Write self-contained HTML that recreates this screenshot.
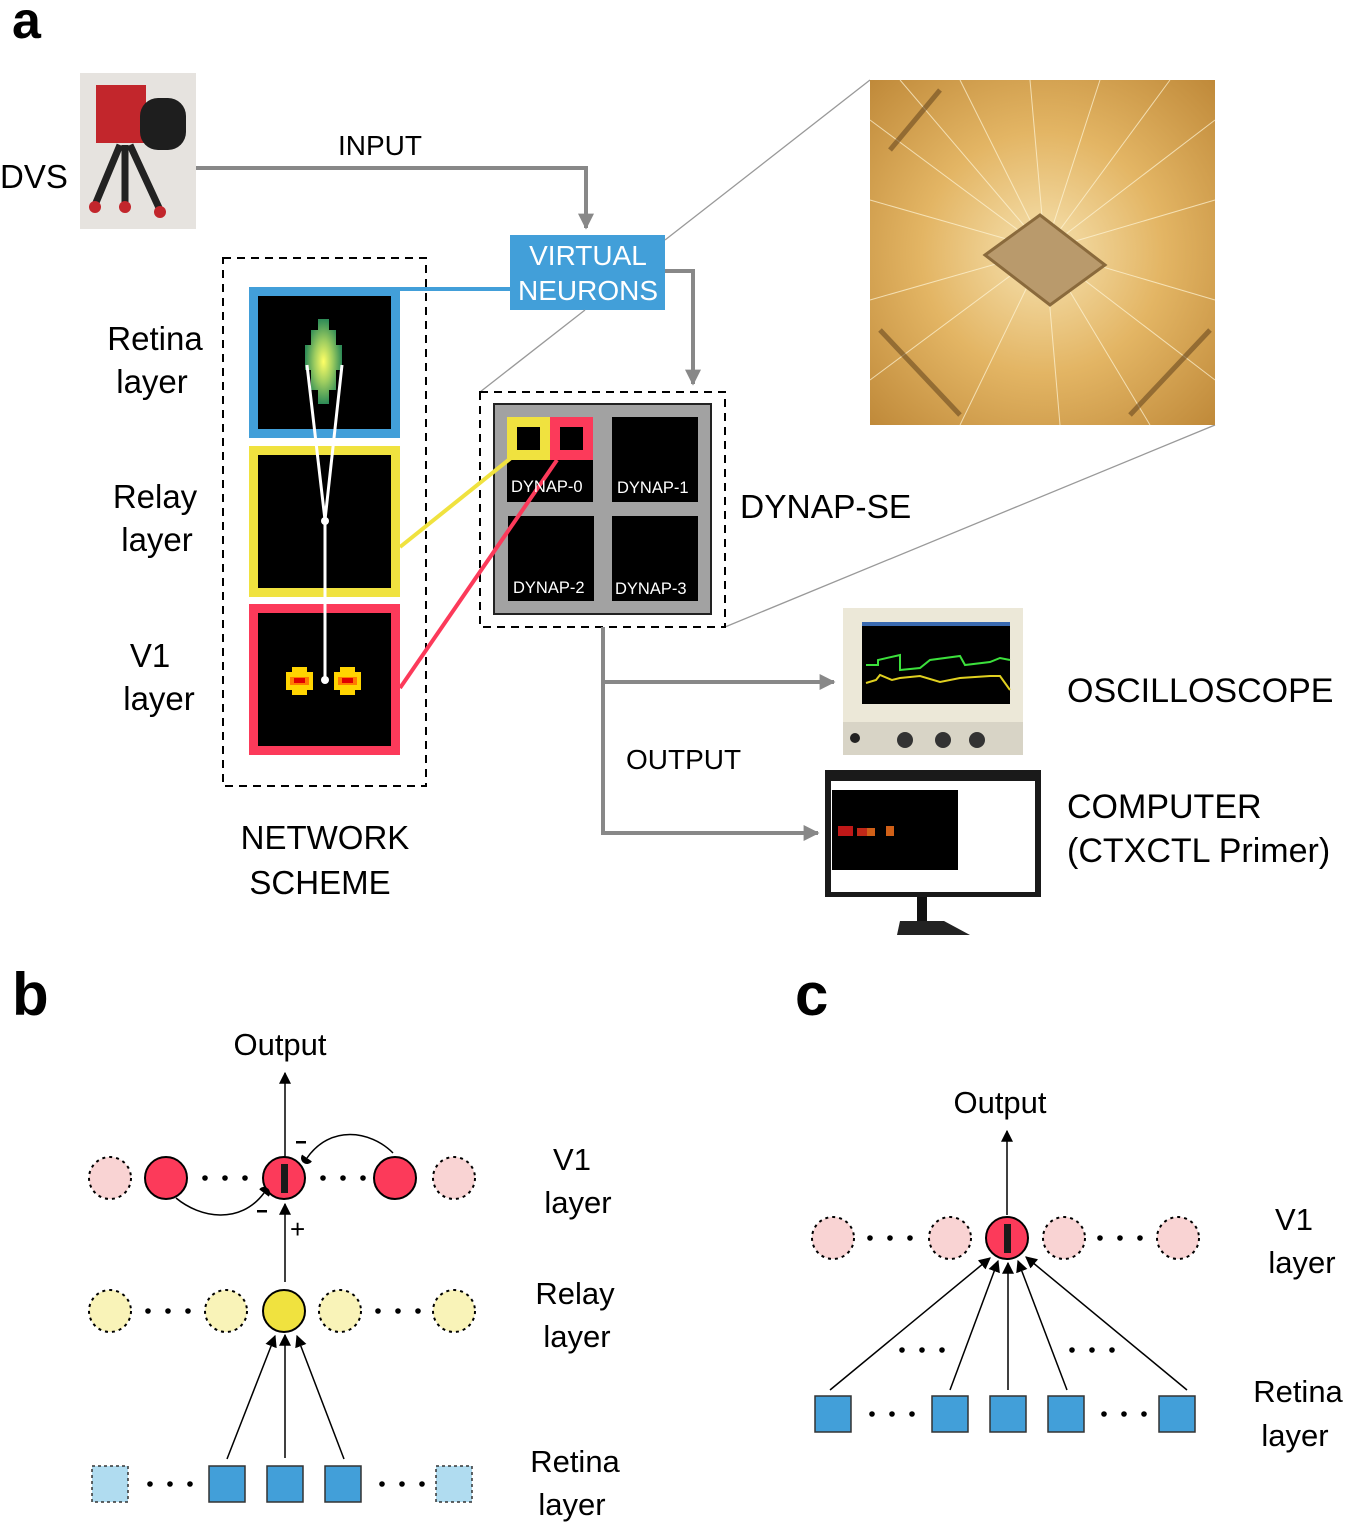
<!DOCTYPE html>
<html><head><meta charset="utf-8"><style>
html,body{margin:0;padding:0;background:#fff}
svg{display:block}
text{font-family:"Liberation Sans",Arial,sans-serif;fill:#000}
</style></head><body>
<svg width="1347" height="1523" viewBox="0 0 1347 1523" xmlns="http://www.w3.org/2000/svg">
<defs>
<marker id="ag" viewBox="0 0 10 10" refX="9" refY="5" markerWidth="4" markerHeight="4" orient="auto"><path d="M0,0L10,5L0,10z" fill="#888"/></marker>
<marker id="ab" viewBox="0 0 10 10" refX="9" refY="5" markerWidth="12" markerHeight="12" orient="auto" markerUnits="userSpaceOnUse"><path d="M0,0L10,5L0,10z" fill="#000"/></marker>
<marker id="ai" viewBox="0 0 10 10" refX="5" refY="5" markerWidth="12" markerHeight="12" orient="auto" markerUnits="userSpaceOnUse"><path d="M5,0A5,5 0 0 1 5,10z" fill="#000"/></marker>
<radialGradient id="chip" cx="50%" cy="50%" r="70%"><stop offset="0" stop-color="#f6e2b0"/><stop offset="0.5" stop-color="#e3b564"/><stop offset="1" stop-color="#c08a3a"/></radialGradient>
<radialGradient id="blob" cx="50%" cy="50%" r="50%"><stop offset="0" stop-color="#ffff66"/><stop offset="0.5" stop-color="#9ccc60"/><stop offset="1" stop-color="#2e8b57"/></radialGradient>
</defs>

<!-- a -->
<text x="12" y="38" font-size="52" font-weight="bold">a</text>
<text x="0" y="188" font-size="33">DVS</text>
<rect x="80" y="73" width="116" height="156" fill="#e6e3df"/>
<rect x="96" y="85" width="50" height="58" fill="#c2262c"/>
<rect x="140" y="98" width="46" height="52" rx="18" fill="#1e1e1e"/>
<path d="M120,145 L95,205 M125,145 L125,205 M130,145 L160,210" stroke="#222" stroke-width="7"/>
<circle cx="95" cy="207" r="6" fill="#c2262c"/><circle cx="125" cy="207" r="6" fill="#c2262c"/><circle cx="160" cy="212" r="6" fill="#c2262c"/>

<text x="338" y="155" font-size="28">INPUT</text>
<polyline points="196,168 586,168 586,228" fill="none" stroke="#888" stroke-width="4" marker-end="url(#ag)"/>
<rect x="510" y="235" width="155" height="75" fill="#429fd9"/>
<text x="588" y="265" font-size="28" text-anchor="middle" style="fill:#fff">VIRTUAL</text>
<text x="588" y="300" font-size="28" text-anchor="middle" style="fill:#fff">NEURONS</text>
<polyline points="665,271 693,271 693,384" fill="none" stroke="#888" stroke-width="4" marker-end="url(#ag)"/>
<line x1="400" y1="289" x2="510" y2="289" stroke="#429fd9" stroke-width="4"/>

<line x1="480" y1="392" x2="585" y2="310" stroke="#999" stroke-width="1.3"/>
<line x1="665" y1="240" x2="870" y2="80" stroke="#999" stroke-width="1.3"/>
<line x1="725" y1="627" x2="1215" y2="425" stroke="#999" stroke-width="1.3"/>

<rect x="223" y="258" width="203" height="528" fill="none" stroke="#000" stroke-width="2" stroke-dasharray="8,6"/>
<rect x="253.5" y="291.5" width="142" height="142" fill="#000" stroke="#429fd9" stroke-width="9"/>
<rect x="253.5" y="450.5" width="142" height="142" fill="#000" stroke="#f0e23f" stroke-width="9"/>
<rect x="253.5" y="608.5" width="142" height="142" fill="#000" stroke="#fc3a5a" stroke-width="9"/>
<polygon points="323,319 329,319 329,330 336,330 336,345 342,345 342,370 336,370 336,390 329,390 329,404 318,404 318,390 311,390 311,370 305,370 305,345 311,345 311,330 318,330 318,319" fill="url(#blob)"/>
<polyline points="307,365 325,520 342,365" fill="none" stroke="#fff" stroke-width="3"/>
<line x1="325" y1="520" x2="325" y2="680" stroke="#fff" stroke-width="3"/>
<circle cx="325" cy="521" r="4" fill="#fff"/><circle cx="325" cy="680" r="4" fill="#fff"/>
<g>
<rect x="286" y="672" width="27" height="18" fill="#ffd400"/><rect x="292" y="667" width="15" height="28" fill="#ffd400"/><rect x="290" y="677" width="19" height="8" fill="#ff7a00"/><rect x="294" y="678" width="11" height="5" fill="#e00000"/>
<rect x="334" y="672" width="27" height="18" fill="#ffd400"/><rect x="340" y="667" width="15" height="28" fill="#ffd400"/><rect x="338" y="677" width="19" height="8" fill="#ff7a00"/><rect x="342" y="678" width="11" height="5" fill="#e00000"/>
</g>
<text x="155" y="350" font-size="33" text-anchor="middle">Retina</text>
<text x="152" y="393" font-size="33" text-anchor="middle">layer</text>
<text x="155" y="508" font-size="33" text-anchor="middle">Relay</text>
<text x="157" y="551" font-size="33" text-anchor="middle">layer</text>
<text x="150" y="667" font-size="33" text-anchor="middle">V1</text>
<text x="159" y="710" font-size="33" text-anchor="middle">layer</text>
<text x="325" y="849" font-size="33" text-anchor="middle">NETWORK</text>
<text x="320" y="894" font-size="33" text-anchor="middle">SCHEME</text>

<rect x="480" y="392" width="245" height="235" fill="none" stroke="#000" stroke-width="2" stroke-dasharray="8,6"/>
<rect x="494" y="404" width="217" height="210" fill="#a2a2a2" stroke="#222" stroke-width="2"/>
<rect x="507" y="417" width="86" height="85" fill="#000"/>
<rect x="612" y="417" width="86" height="85" fill="#000"/>
<rect x="508" y="516" width="86" height="85" fill="#000"/>
<rect x="612" y="516" width="86" height="85" fill="#000"/>
<rect x="512" y="422" width="33" height="33" fill="#000" stroke="#f0e23f" stroke-width="10"/>
<rect x="555" y="422" width="33" height="33" fill="#000" stroke="#fc3a5a" stroke-width="10"/>
<line x1="400" y1="547" x2="511" y2="458" stroke="#f0e23f" stroke-width="4"/>
<line x1="400" y1="688" x2="557" y2="460" stroke="#fc3a5a" stroke-width="4"/>
<text x="511" y="492" font-size="16.5" style="fill:#fff">DYNAP-0</text>
<text x="617" y="493" font-size="16.5" style="fill:#fff">DYNAP-1</text>
<text x="513" y="593" font-size="16.5" style="fill:#fff">DYNAP-2</text>
<text x="615" y="594" font-size="16.5" style="fill:#fff">DYNAP-3</text>
<text x="740" y="518" font-size="33.5">DYNAP-SE</text>

<rect x="870" y="80" width="345" height="345" fill="url(#chip)"/>
<g stroke="#fff6d8" stroke-width="1" opacity="0.7">
<path d="M1045,250 L870,120 M1045,250 L900,80 M1045,250 L960,80 M1045,250 L1030,80 M1045,250 L1100,80 M1045,250 L1170,80 M1045,250 L1215,120 M1045,250 L1215,200 M1045,250 L1215,300 M1045,250 L1215,380 M1045,250 L1150,425 M1045,250 L1060,425 M1045,250 L960,425 M1045,250 L870,380 M1045,250 L870,300 M1045,250 L870,200"/>
</g>
<polygon points="985,255 1040,215 1105,265 1050,305" fill="#b99a6c" stroke="#8a6a3c" stroke-width="3"/>
<g stroke="#6b4a20" stroke-width="5" opacity="0.6"><path d="M880,330 L960,415 M1130,415 L1210,330 M890,150 L940,90"/></g>

<polyline points="603,627 603,833 818,833" fill="none" stroke="#888" stroke-width="4" marker-end="url(#ag)"/>
<line x1="603" y1="682" x2="834" y2="682" stroke="#888" stroke-width="4" marker-end="url(#ag)"/>
<text x="626" y="769" font-size="28">OUTPUT</text>

<rect x="843" y="608" width="180" height="147" fill="#ece8d8"/>
<rect x="862" y="622" width="148" height="82" fill="#000"/>
<rect x="862" y="622" width="148" height="4" fill="#3a6ab0"/>
<path d="M866,665 L878,665 L878,660 L900,655 L900,670 L920,668 L930,660 L960,656 L965,665 L990,662 L1000,658 L1010,660" fill="none" stroke="#3ce03c" stroke-width="2"/>
<path d="M866,683 L876,680 L880,675 L892,680 L900,678 L920,676 L940,682 L960,678 L990,676 L1000,676 L1010,690" fill="none" stroke="#e0d020" stroke-width="2"/>
<rect x="843" y="722" width="180" height="33" fill="#d8d4c6"/>
<circle cx="855" cy="738" r="5" fill="#222"/><circle cx="905" cy="740" r="8" fill="#333"/><circle cx="943" cy="740" r="8" fill="#333"/><circle cx="977" cy="740" r="8" fill="#333"/>
<text x="1067" y="702" font-size="34">OSCILLOSCOPE</text>

<rect x="825" y="770" width="216" height="127" fill="#1a1a1a"/>
<rect x="831" y="781" width="204" height="111" fill="#fff"/>
<rect x="832" y="790" width="126" height="80" fill="#000"/>
<rect x="838" y="826" width="15" height="10" fill="#c01818"/><rect x="857" y="828" width="10" height="8" fill="#c02818"/><rect x="867" y="828" width="8" height="8" fill="#d06018"/><rect x="886" y="826" width="8" height="10" fill="#d06018"/>
<rect x="917" y="897" width="10" height="24" fill="#111"/>
<polygon points="900,921 944,921 970,935 897,935" fill="#222"/>
<text x="1067" y="818" font-size="34">COMPUTER</text>
<text x="1067" y="862" font-size="34">(CTXCTL Primer)</text>

<!-- b -->
<text x="12" y="1015" font-size="60" font-weight="bold">b</text>
<text x="280" y="1055" font-size="31" text-anchor="middle">Output</text>
<line x1="285" y1="1158" x2="285" y2="1073" stroke="#000" stroke-width="1.5" marker-end="url(#ab)"/>
<g stroke="#000" stroke-width="2">
<circle cx="110" cy="1178" r="21" fill="#f9d3d3" stroke-dasharray="3,4"/>
<circle cx="166" cy="1178" r="21" fill="#fc3a5a"/>
<circle cx="284" cy="1178" r="21" fill="#fc3a5a"/>
<circle cx="395" cy="1178" r="21" fill="#fc3a5a"/>
<circle cx="454" cy="1178" r="21" fill="#f9d3d3" stroke-dasharray="3,4"/>
<circle cx="110" cy="1311" r="21" fill="#f9f3b8" stroke-dasharray="3,4"/>
<circle cx="226" cy="1311" r="21" fill="#f9f3b8" stroke-dasharray="3,4"/>
<circle cx="284" cy="1311" r="21" fill="#f0e23f"/>
<circle cx="340" cy="1311" r="21" fill="#f9f3b8" stroke-dasharray="3,4"/>
<circle cx="454" cy="1311" r="21" fill="#f9f3b8" stroke-dasharray="3,4"/>
</g>
<rect x="281" y="1164" width="7" height="29" fill="#1a1a1a"/>
<g fill="#000">
<circle cx="205" cy="1178" r="2.8"/><circle cx="225" cy="1178" r="2.8"/><circle cx="245" cy="1178" r="2.8"/>
<circle cx="323" cy="1178" r="2.8"/><circle cx="343" cy="1178" r="2.8"/><circle cx="363" cy="1178" r="2.8"/>
<circle cx="148" cy="1311" r="2.8"/><circle cx="168" cy="1311" r="2.8"/><circle cx="188" cy="1311" r="2.8"/>
<circle cx="378" cy="1311" r="2.8"/><circle cx="398" cy="1311" r="2.8"/><circle cx="418" cy="1311" r="2.8"/>
<circle cx="150" cy="1484" r="2.8"/><circle cx="170" cy="1484" r="2.8"/><circle cx="190" cy="1484" r="2.8"/>
<circle cx="382" cy="1484" r="2.8"/><circle cx="402" cy="1484" r="2.8"/><circle cx="422" cy="1484" r="2.8"/>
</g>
<g stroke="#333" stroke-width="1.5">
<rect x="92" y="1466" width="36" height="36" fill="#b0dcf0" stroke-dasharray="3,3"/>
<rect x="209" y="1466" width="36" height="36" fill="#429fd9"/>
<rect x="267" y="1466" width="36" height="36" fill="#429fd9"/>
<rect x="325" y="1466" width="36" height="36" fill="#429fd9"/>
<rect x="436" y="1466" width="36" height="36" fill="#b0dcf0" stroke-dasharray="3,3"/>
</g>
<g stroke="#000" stroke-width="1.5" fill="none">
<line x1="227" y1="1459" x2="275" y2="1336" marker-end="url(#ab)"/>
<line x1="285" y1="1458" x2="285" y2="1335" marker-end="url(#ab)"/>
<line x1="344" y1="1459" x2="297" y2="1336" marker-end="url(#ab)"/>
<line x1="285" y1="1282" x2="285" y2="1204" marker-end="url(#ab)"/>
<path d="M176,1198 C200,1218 240,1225 264,1193" marker-end="url(#ai)"/>
<path d="M393,1153 C370,1130 330,1125 307,1158" marker-end="url(#ai)"/>
</g>
<text x="290" y="1238" font-size="26">+</text>
<rect x="257" y="1210" width="10" height="2.5" fill="#000"/>
<rect x="296" y="1141" width="10" height="2.5" fill="#000"/>
<text x="572" y="1170" font-size="31" text-anchor="middle">V1</text>
<text x="578" y="1213" font-size="31" text-anchor="middle">layer</text>
<text x="575" y="1304" font-size="31" text-anchor="middle">Relay</text>
<text x="577" y="1347" font-size="31" text-anchor="middle">layer</text>
<text x="575" y="1472" font-size="31" text-anchor="middle">Retina</text>
<text x="572" y="1515" font-size="31" text-anchor="middle">layer</text>

<!-- c -->
<text x="795" y="1015" font-size="60" font-weight="bold">c</text>
<text x="1000" y="1113" font-size="31" text-anchor="middle">Output</text>
<line x1="1007" y1="1215" x2="1007" y2="1131" stroke="#000" stroke-width="1.5" marker-end="url(#ab)"/>
<g stroke="#000" stroke-width="2">
<circle cx="833" cy="1238" r="21" fill="#f9d3d3" stroke-dasharray="3,4"/>
<circle cx="950" cy="1238" r="21" fill="#f9d3d3" stroke-dasharray="3,4"/>
<circle cx="1007" cy="1238" r="21" fill="#fc3a5a"/>
<circle cx="1064" cy="1238" r="21" fill="#f9d3d3" stroke-dasharray="3,4"/>
<circle cx="1178" cy="1238" r="21" fill="#f9d3d3" stroke-dasharray="3,4"/>
</g>
<rect x="1004" y="1224" width="7" height="29" fill="#1a1a1a"/>
<g fill="#000">
<circle cx="870" cy="1238" r="2.8"/><circle cx="890" cy="1238" r="2.8"/><circle cx="910" cy="1238" r="2.8"/>
<circle cx="1100" cy="1238" r="2.8"/><circle cx="1120" cy="1238" r="2.8"/><circle cx="1140" cy="1238" r="2.8"/>
<circle cx="902" cy="1350" r="2.8"/><circle cx="922" cy="1350" r="2.8"/><circle cx="942" cy="1350" r="2.8"/>
<circle cx="1072" cy="1350" r="2.8"/><circle cx="1092" cy="1350" r="2.8"/><circle cx="1112" cy="1350" r="2.8"/>
<circle cx="872" cy="1414" r="2.8"/><circle cx="892" cy="1414" r="2.8"/><circle cx="912" cy="1414" r="2.8"/>
<circle cx="1104" cy="1414" r="2.8"/><circle cx="1124" cy="1414" r="2.8"/><circle cx="1144" cy="1414" r="2.8"/>
</g>
<g stroke="#333" stroke-width="1.5" fill="#429fd9">
<rect x="815" y="1396" width="36" height="36"/>
<rect x="932" y="1396" width="36" height="36"/>
<rect x="990" y="1396" width="36" height="36"/>
<rect x="1048" y="1396" width="36" height="36"/>
<rect x="1159" y="1396" width="36" height="36"/>
</g>
<g stroke="#000" stroke-width="1.5">
<line x1="830" y1="1390" x2="990" y2="1258" marker-end="url(#ab)"/>
<line x1="950" y1="1390" x2="998" y2="1261" marker-end="url(#ab)"/>
<line x1="1008" y1="1390" x2="1008" y2="1263" marker-end="url(#ab)"/>
<line x1="1067" y1="1390" x2="1018" y2="1261" marker-end="url(#ab)"/>
<line x1="1187" y1="1390" x2="1026" y2="1257" marker-end="url(#ab)"/>
</g>
<text x="1294" y="1230" font-size="31" text-anchor="middle">V1</text>
<text x="1302" y="1273" font-size="31" text-anchor="middle">layer</text>
<text x="1298" y="1402" font-size="31" text-anchor="middle">Retina</text>
<text x="1295" y="1446" font-size="31" text-anchor="middle">layer</text>
</svg>
</body></html>
